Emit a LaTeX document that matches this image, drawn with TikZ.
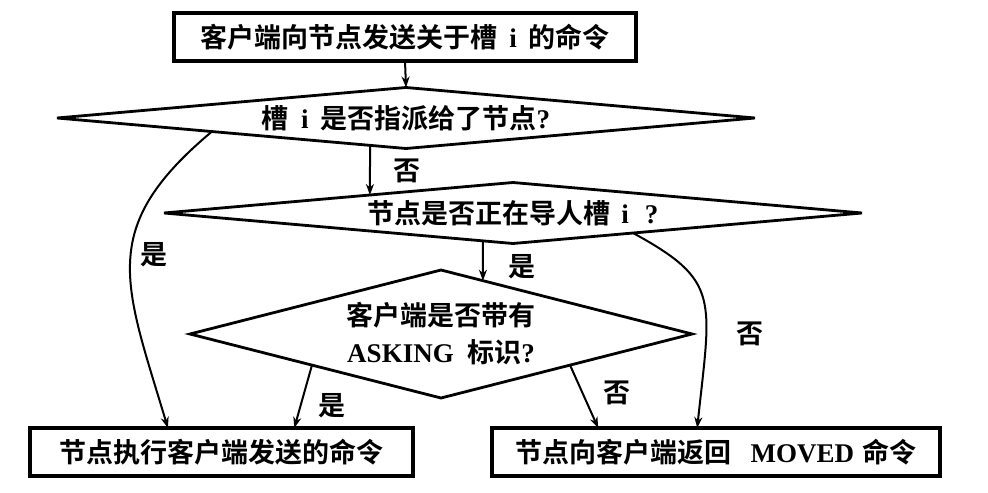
\documentclass[tikz,border=0pt]{standalone}
\usepackage{fontspec}
\setmainfont{Noto Sans CJK SC}[UprightFont=* Bold]
\newfontfamily\latinfont{Liberation Serif}[UprightFont=* Bold]
\newcommand\en[1]{{\latinfont #1}}
\usetikzlibrary{shapes.geometric,arrows.meta,calc}
\begin{document}
\begin{tikzpicture}[
  x=0.5pt, y=-0.5pt,
  every node/.style={align=center, inner sep=0pt, outer sep=0pt,
                     font=\fontsize{13.5}{18.5}\selectfont},
  cmdBox/.style={rectangle, draw=black, line width=1.6pt, fill=white,
                 minimum height=24pt},
  wideDec/.style={diamond, draw=black, line width=1.4pt, fill=white,
                  shape aspect=11.44, minimum width=349pt, minimum height=30.5pt},
  tallDec/.style={diamond, draw=black, line width=1.4pt, fill=white,
                  shape aspect=3.92, minimum width=251pt, minimum height=64pt},
  flow/.style={-{Stealth[length=5.5pt,width=4pt]}, line width=1pt},
  tag/.style={font=\fontsize{13.5}{16}\selectfont}
]
\useasboundingbox (0,0) rectangle (988,492);

% REQUEST
\node[cmdBox, minimum width=231pt] (req) at (405,37)
  {客户端向节点发送关于槽\hspace{.45em}\en{i}\hspace{.45em}的命令};

% QUESTIONS
\node[wideDec] (qAssign) at (406,118)
  {槽\hspace{.45em}\en{i}\hspace{.45em}是否指派给了节点\en{?}};
\node[wideDec] (qImport) at (513,213)
  {节点是否正在导人槽\hspace{.4em}\en{i}\hspace{.6em}\en{?}};
\node[tallDec] (qAsk) at (441,334)
  {客户端是否带有\\ \en{ASKING}\hspace{.5em}标识\en{?}};

% RESULTS
\node[cmdBox, minimum width=191.5pt] (exec) at (221.5,452)
  {节点执行客户端发送的命令};
\node[cmdBox, minimum width=224pt] (moved) at (716,452)
  {节点向客户端返回\hspace{.7em}\en{MOVED}\hspace{.3em}命令};

% CONNECTORS
\draw[flow] (req.south) -- (qAssign.north);

\coordinate (aNo)  at ($(qAssign.south)!0.103!(qAssign.west)$);
\coordinate (iIn)  at ($(qImport.north)!0.41!(qImport.west)$);
\draw[flow] (aNo) -- (iIn);
\node[tag] (tAssignNo) at (407,171) {否};

\coordinate (aYes) at ($(qAssign.south)!0.556!(qAssign.west)$);
\coordinate (eInL) at ($(exec.north west)!0.36!(exec.north east)$);
\draw[flow] (aYes) .. controls (96.5,228) and (124.5,283) .. (eInL);
\node[tag] (tAssignYes) at (154,255) {是};

\coordinate (iYes) at ($(qImport.south)!0.086!(qImport.west)$);
\coordinate (kIn)  at ($(qAsk.north)!0.167!(qAsk.east)$);
\draw[flow] (iYes) -- (kIn);
\node[tag] (tImportYes) at (522,267) {是};

\coordinate (iNo)  at ($(qImport.south)!0.344!(qImport.east)$);
\coordinate (mInR) at ($(moved.north west)!0.458!(moved.north east)$);
\draw[flow] (iNo) .. controls (721,281) and (711,298) .. (mInR);
\node[tag] (tImportNo) at (750,334) {否};

\coordinate (kYes) at ($(qAsk.south)!0.514!(qAsk.west)$);
\coordinate (eInR) at ($(exec.north west)!0.69!(exec.north east)$);
\draw[flow] (kYes) -- (eInR);
\node[tag] (tAskYes) at (332,406) {是};

\coordinate (kNo)  at ($(qAsk.south)!0.514!(qAsk.east)$);
\coordinate (mInL) at ($(moved.north west)!0.237!(moved.north east)$);
\draw[flow] (kNo) -- (mInL);
\node[tag] (tAskNo) at (617,393) {否};
\end{tikzpicture}
\end{document}
